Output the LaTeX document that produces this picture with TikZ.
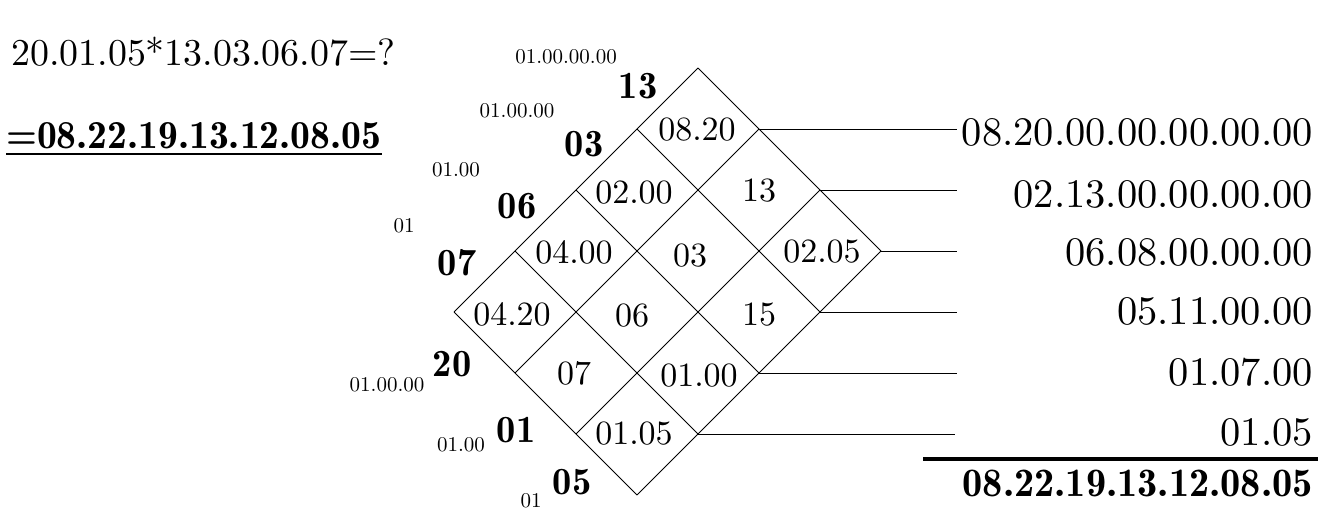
\documentclass[tikz,border=0pt]{standalone}
\usepackage{fontspec}
\setmainfont{lmroman10-regular.otf}[BoldFont=lmromandemi10-regular.otf]
\begin{document}
\begin{tikzpicture}[x=1pt,y=-1pt,
  cell/.style={font=\fontsize{34}{36}\selectfont, inner sep=0pt},
  edgenum/.style={font=\bfseries\fontsize{38.5}{40}\selectfont, inner sep=0pt},
  tinylab/.style={font=\fontsize{21}{23}\selectfont, inner sep=0pt},
  rowtxt/.style={font=\fontsize{40.5}{42}\selectfont, anchor=east, inner sep=0pt},
  gridline/.style={line width=0.8pt},
  heavy/.style={line width=3.5pt}]
\fill[white] (0,0) rectangle (1327,529);
\useasboundingbox (0,0) rectangle (1327,529);

% top-left question and answer
\node[anchor=west, inner sep=0pt, font=\fontsize{37.9}{39}\selectfont] (q) at (11,52) {20.01.05*13.03.06.07=?};
\node[anchor=west, inner sep=0pt, font=\bfseries\fontsize{39.7}{41}\selectfont] (ans) at (6,136) {=08.22.19.13.12.08.05};
\coordinate (ul1) at (6,154);
\coordinate (ul2) at (382,154);
\draw[line width=2.6pt] (ul1) -- (ul2);

% lattice points
\foreach \i in {0,...,4}{
  \foreach \j in {0,...,3}{
    \coordinate (p-\i-\j) at ({698+61*\j-61*\i},{68+61*\i+61*\j});
  }
}
\foreach \j in {0,...,3}{ \draw[gridline] (p-0-\j) -- (p-4-\j); }
\foreach \i in {0,...,4}{ \draw[gridline] (p-\i-0) -- (p-\i-3); }

% cell texts
\node[cell] (c00) at (697,130) {08.20};
\node[cell] (c10) at (634,193) {02.00};
\node[cell] (c01) at (759,191) {13};
\node[cell] (c20) at (574,252) {04.00};
\node[cell] (c11) at (690,256) {03};
\node[cell] (c02) at (822,252) {02.05};
\node[cell] (c30) at (512,314) {04.20};
\node[cell] (c21) at (632,316) {06};
\node[cell] (c12) at (759,315) {15};
\node[cell] (c31) at (574,373) {07};
\node[cell] (c22) at (699,376) {01.00};
\node[cell] (c32) at (634,434) {01.05};

% bold edge numbers
\node[edgenum] (t13) at (638,86) {13};
\node[edgenum] (t03) at (584,144) {03};
\node[edgenum] (t06) at (517,206) {06};
\node[edgenum] (t07) at (457,263) {07};
\node[edgenum] (l20) at (452,364) {20};
\node[edgenum] (l01) at (516,430) {01};
\node[edgenum] (l05) at (572,482) {05};

% small place labels
\node[tinylab] (s1) at (566,57) {01.00.00.00};
\node[tinylab] (s2) at (517,111) {01.00.00};
\node[tinylab] (s3) at (456,170) {01.00};
\node[tinylab] (s4) at (404,226) {01};
\node[tinylab] (s5) at (387,385) {01.00.00};
\node[tinylab] (s6) at (461,445) {01.00};
\node[tinylab] (s7) at (531,501) {01};

% right column
\node[rowtxt] (r1) at (1313,132) {08.20.00.00.00.00.00};
\node[rowtxt] (r2) at (1313,194) {02.13.00.00.00.00};
\node[rowtxt] (r3) at (1313,252) {06.08.00.00.00};
\node[rowtxt] (r4) at (1313,311) {05.11.00.00};
\node[rowtxt] (r5) at (1313,372) {01.07.00};
\node[rowtxt] (r6) at (1313,432) {01.05};
\node[anchor=east, inner sep=0pt, font=\bfseries\fontsize{40.4}{42}\selectfont] (res) at (1313,483) {08.22.19.13.12.08.05};

% connector ends
\coordinate (e1) at (957,129);
\coordinate (e2) at (957,190);
\coordinate (e3) at (957,251);
\coordinate (e4) at (957,312);
\coordinate (e5) at (957,373);
\coordinate (e6) at (955,434);
\draw[gridline] (p-0-1) -- (e1);
\draw[gridline] (p-0-2) -- (e2);
\draw[gridline] (p-0-3) -- (e3);
\draw[gridline] (p-1-3) -- (e4);
\draw[gridline] (p-2-3) -- (e5);
\draw[gridline] (p-3-3) -- (e6);

\coordinate (b1) at (923,459);
\coordinate (b2) at (1318,459);
\draw[heavy] (b1) -- (b2);
\end{tikzpicture}
\end{document}
